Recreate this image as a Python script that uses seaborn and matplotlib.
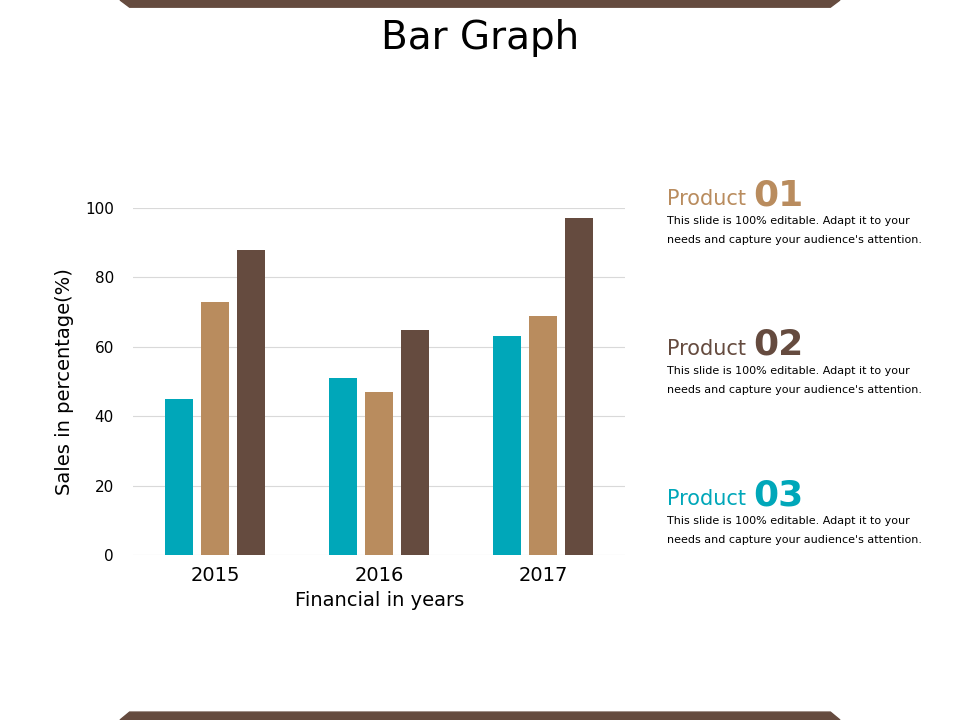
import pandas as pd
import matplotlib.pyplot as plt
import seaborn as sns
from matplotlib.patches import Polygon

# Données
years = ["2015", "2016", "2017"]
products = ["Product 01", "Product 02", "Product 03"]
teal_values = [45, 51, 63]
tan_values = [73, 47, 69]
brown_values = [88, 65, 97]

bar_colors = ["#00A7B9", "#B98C5E", "#654B3F"]
text_colors = ["#B98C5E", "#654B3F", "#00A7B9"]
desc = "This slide is 100% editable. Adapt it to your\nneeds and capture your audience's attention."

df = pd.DataFrame({
    "year": years * 3,
    "series": ["a"] * 3 + ["b"] * 3 + ["c"] * 3,
    "value": teal_values + tan_values + brown_values,
})

fig = plt.figure(figsize=(9.6, 7.2), dpi=100)
ax = fig.add_axes([0.139, 0.229, 0.512, 0.482])

sns.barplot(data=df, x="year", y="value", hue="series", palette=bar_colors,
            width=0.66, gap=0.22, ax=ax, legend=False, saturation=1)

ax.set_xlim(-0.5, 2.5)
ax.set_ylim(0, 100)
ax.set_yticks([0, 20, 40, 60, 80, 100])
ax.grid(axis="y", color="#d9d9d9", linewidth=0.8)
ax.set_axisbelow(True)
for s in ax.spines.values():
    s.set_visible(False)
ax.tick_params(length=0)
ax.tick_params(axis="y", labelsize=11, pad=14)
ax.tick_params(axis="x", labelsize=14, pad=8)
ax.set_xlabel("Financial in years", fontsize=14, labelpad=4)
ax.set_ylabel("Sales in percentage(%)", fontsize=14, labelpad=8)

fig.text(0.5, 0.947, "Bar Graph", ha="center", va="center", fontsize=28)

# Bandeaux haut et bas
fig.patches.append(Polygon([[0.125, 1.0], [0.875, 1.0], [0.865, 0.99], [0.135, 0.99]],
                           closed=True, transform=fig.transFigure, color="#654B3F"))
fig.patches.append(Polygon([[0.135, 0.011], [0.865, 0.011], [0.875, 0.0], [0.125, 0.0]],
                           closed=True, transform=fig.transFigure, color="#654B3F"))

# Blocs de texte à droite
tops = [0.715, 0.507, 0.298]
for name, col, y in zip(products, text_colors, tops):
    word, num = name.split()
    t = fig.text(0.695, y, word + " ", fontsize=15, color=col, va="baseline")
    fig.canvas.draw()
    bb = t.get_window_extent()
    fig.text(bb.x1 / fig.bbox.width, y, num, fontsize=26, color=col,
             fontweight="bold", va="baseline")
    fig.text(0.695, y - 0.015, desc, fontsize=8, va="top", linespacing=2.1)

plt.savefig("out.png", dpi=100)
plt.close()
